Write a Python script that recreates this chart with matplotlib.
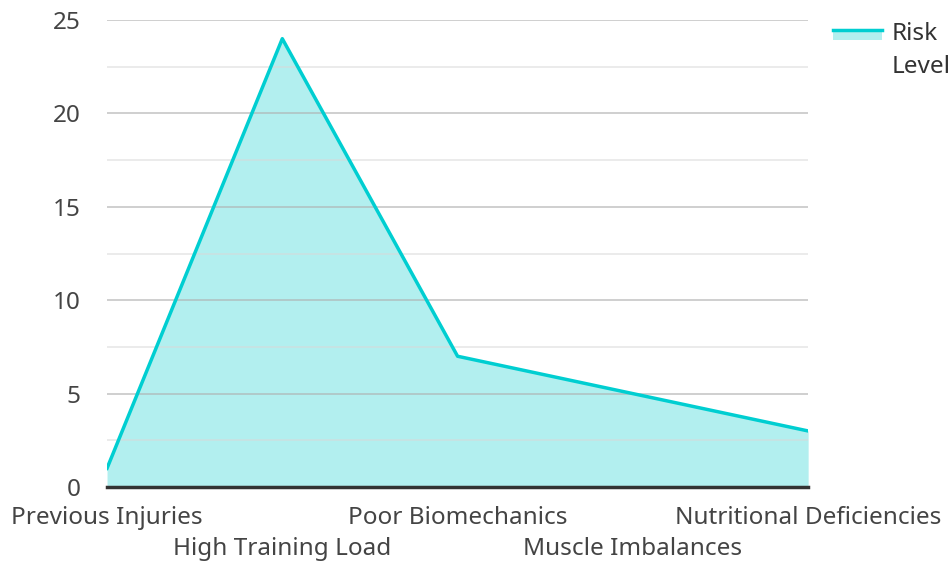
import matplotlib.pyplot as plt
from matplotlib.lines import Line2D
from matplotlib.patches import Rectangle
from matplotlib.legend_handler import HandlerBase
from matplotlib.ticker import MultipleLocator

plt.rcParams['font.family'] = ['Noto Sans', 'DejaVu Sans']

factors = ["Previous Injuries", "High Training Load", "Poor Biomechanics",
           "Muscle Imbalances", "Nutritional Deficiencies"]
risk_level = [1, 24, 7, 5, 3]
series_name = "Risk\nLevel"

line_color = "#00CED1"
fill_color = "#B2EFEF"


class AreaHandler(HandlerBase):
    # line sitting on top of a light filled box, like the reference legend
    def create_artists(self, legend, orig_handle, xdescent, ydescent,
                       width, height, fontsize, trans):
        top = 1.2 * fontsize
        box_h = 0.4 * fontsize
        box = Rectangle((-xdescent, top - box_h), width, box_h,
                        facecolor=fill_color, edgecolor="none", transform=trans)
        ln = Line2D([-xdescent, -xdescent + width], [top, top],
                    color=line_color, lw=2.5, transform=trans)
        return [box, ln]


fig = plt.figure(figsize=(9.53, 5.61), dpi=100)
ax = fig.add_axes([0.1123, 0.1319, 0.8480 - 0.1123, 0.9643 - 0.1319])

x = list(range(len(factors)))
ax.fill_between(x, risk_level, 0, color=fill_color, lw=0, zorder=2)
ax.plot(x, risk_level, color=line_color, lw=2.5, zorder=3)

ax.set_xlim(0, len(factors) - 1)
ax.set_ylim(0, 25)
ax.yaxis.set_major_locator(MultipleLocator(5))
ax.yaxis.set_minor_locator(MultipleLocator(2.5))
# axis drawn above the fill but below the line (zorder 2.5)
ax.set_axisbelow(False)
ax.grid(axis="y", which="major", color="#b0b0b0", alpha=0.7, lw=1.2)
ax.grid(axis="y", which="minor", color="#d8d8d8", alpha=0.6, lw=1.2)

ax.set_xticks(x)
ax.set_xticklabels(factors)
ax.tick_params(axis="both", which="both", length=0, labelsize=17.5, colors="#444444")
ax.tick_params(axis="x", pad=13.5)
ax.tick_params(axis="y", pad=19)
# stagger every other label onto a second row
for i, t in enumerate(ax.xaxis.get_major_ticks()):
    if i % 2 == 1:
        t.set_pad(13.5 + 22.5)

for side in ["top", "right", "left"]:
    ax.spines[side].set_visible(False)
ax.spines["bottom"].set_color("#333333")
ax.spines["bottom"].set_linewidth(2.5)
ax.spines["bottom"].set_zorder(4)

handle = object()
leg = fig.legend([handle], [series_name], handler_map={object: AreaHandler()},
                 loc="upper left", bbox_to_anchor=(0.874, 0.96), frameon=False,
                 borderaxespad=0, borderpad=0,
                 fontsize=17.5, handlelength=2.0, handletextpad=0.4,
                 labelcolor="#333333")
for t in leg.get_texts():
    t.set_linespacing(1.45)

plt.savefig("out.png", dpi=100)
